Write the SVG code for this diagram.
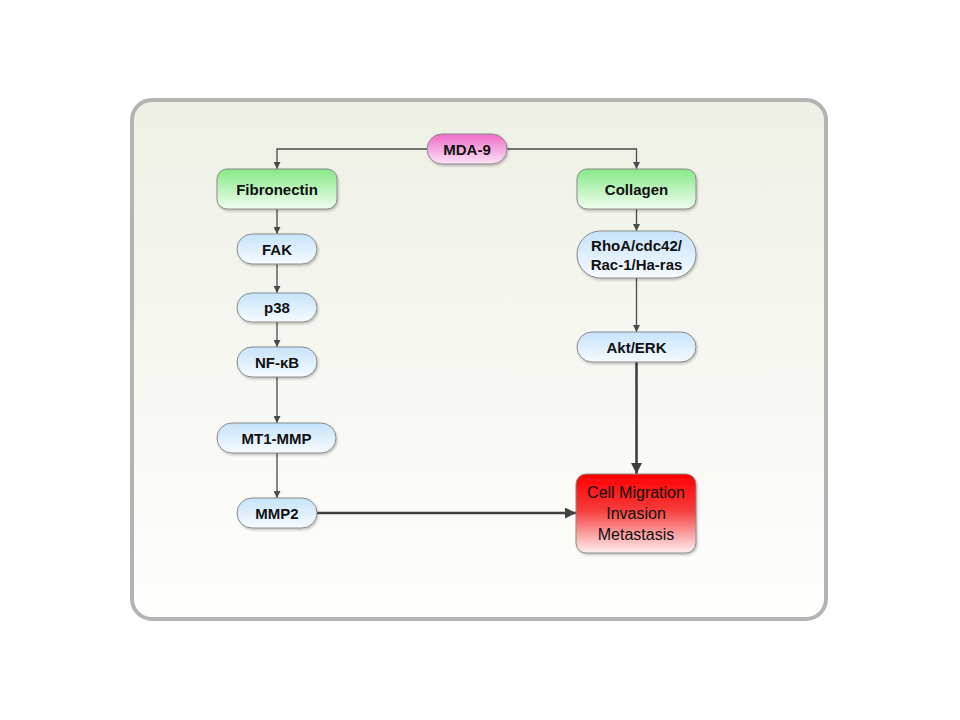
<svg xmlns="http://www.w3.org/2000/svg" width="960" height="720" viewBox="0 0 960 720">
<defs>
<linearGradient id="gBg" x1="0" y1="0" x2="0" y2="1"><stop offset="0" stop-color="#eef0e5"/><stop offset="1" stop-color="#fefefd"/></linearGradient>
<linearGradient id="gPink" x1="0" y1="0" x2="0" y2="1"><stop offset="0" stop-color="#ee6cc9"/><stop offset="1" stop-color="#fde3f5"/></linearGradient>
<linearGradient id="gGreen" x1="0" y1="0" x2="0" y2="1"><stop offset="0" stop-color="#86e886"/><stop offset="1" stop-color="#f1fdf1"/></linearGradient>
<linearGradient id="gBlue" x1="0" y1="0" x2="0" y2="1"><stop offset="0" stop-color="#c6e3fb"/><stop offset="1" stop-color="#f6fbff"/></linearGradient>
<linearGradient id="gRed" x1="0" y1="0" x2="0" y2="1"><stop offset="0" stop-color="#ff0000"/><stop offset="0.45" stop-color="#f63a3a"/><stop offset="1" stop-color="#fff0f0"/></linearGradient>
<filter id="sh" x="-20%" y="-20%" width="140%" height="150%"><feDropShadow dx="1" dy="1.5" stdDeviation="1.2" flood-color="#000" flood-opacity="0.25"/></filter>
<marker id="ah" viewBox="0 0 10 10" refX="10" refY="5" markerWidth="7" markerHeight="7" markerUnits="userSpaceOnUse" orient="auto"><path d="M0,0 L10,5 L0,10 z" fill="#4a4a4a"/></marker>
<marker id="ahb" viewBox="0 0 10 10" refX="10" refY="5" markerWidth="11" markerHeight="11" markerUnits="userSpaceOnUse" orient="auto"><path d="M0,0 L10,5 L0,10 z" fill="#404040"/></marker>
</defs>
<style>
.n{stroke:#8a8a8a;stroke-width:1;filter:url(#sh)}
.t{font-family:"Liberation Sans",Arial,sans-serif;font-weight:bold;font-size:15px;fill:#111;text-anchor:middle}
.tr{font-family:"Liberation Sans",Arial,sans-serif;font-size:16px;fill:#111;text-anchor:middle}
.c{fill:none;stroke:#4a4a4a;stroke-width:1.3;marker-end:url(#ah)}
.cb{fill:none;stroke:#404040;stroke-width:2.6;marker-end:url(#ahb)}
</style>
<rect x="132" y="100" width="694" height="519" rx="20" fill="url(#gBg)" stroke="#b3b3b3" stroke-width="4"/>
<g id="connectors">
<path class="c" d="M427,149 H277 V169"/>
<path class="c" d="M507,149 H636.5 V169"/>
<path class="c" d="M277,209 V234"/>
<path class="c" d="M277,264 V293"/>
<path class="c" d="M277,322 V347"/>
<path class="c" d="M277,377 V423"/>
<path class="c" d="M277,453 V498"/>
<path class="c" d="M636.5,209 V231"/>
<path class="c" d="M636.5,278 V332"/>
<path class="cb" d="M636.5,362 V474"/>
<path class="cb" d="M317,513 H576"/>
</g>
<g id="mda9"><rect class="n" x="427" y="134" width="80" height="30" rx="15" fill="url(#gPink)"/><text class="t" x="467" y="154.5">MDA-9</text></g>
<g id="fibronectin"><rect class="n" x="217" y="169" width="120" height="40" rx="10" fill="url(#gGreen)"/><text class="t" x="277" y="194.5">Fibronectin</text></g>
<g id="fak"><rect class="n" x="237" y="234" width="80" height="30" rx="15" fill="url(#gBlue)"/><text class="t" x="277" y="254.5">FAK</text></g>
<g id="p38"><rect class="n" x="237" y="293" width="80" height="29" rx="14.5" fill="url(#gBlue)"/><text class="t" x="277" y="313">p38</text></g>
<g id="nfkb"><rect class="n" x="237" y="347" width="80" height="30" rx="15" fill="url(#gBlue)"/><text class="t" x="277" y="367.5">NF-κB</text></g>
<g id="mt1mmp"><rect class="n" x="217" y="423" width="119" height="30" rx="15" fill="url(#gBlue)"/><text class="t" x="276.5" y="443.5">MT1-MMP</text></g>
<g id="mmp2"><rect class="n" x="237" y="498" width="80" height="30" rx="15" fill="url(#gBlue)"/><text class="t" x="277" y="518.5">MMP2</text></g>
<g id="collagen"><rect class="n" x="577" y="169" width="119" height="40" rx="10" fill="url(#gGreen)"/><text class="t" x="636.5" y="194.5">Collagen</text></g>
<g id="rhoa"><rect class="n" x="577" y="231" width="119" height="47" rx="23.5" fill="url(#gBlue)"/><text class="t" x="636.5" y="250.5">RhoA/cdc42/</text><text class="t" x="636.5" y="270">Rac-1/Ha-ras</text></g>
<g id="aktrk"><rect class="n" x="577" y="332" width="119" height="30" rx="15" fill="url(#gBlue)"/><text class="t" x="636.5" y="352.5">Akt/ERK</text></g>
<g id="cell"><rect class="n" x="576" y="474" width="120" height="79" rx="10" fill="url(#gRed)"/><text class="tr" x="636" y="497.5">Cell Migration</text><text class="tr" x="636" y="518.5">Invasion</text><text class="tr" x="636" y="539.5">Metastasis</text></g>
</svg>
